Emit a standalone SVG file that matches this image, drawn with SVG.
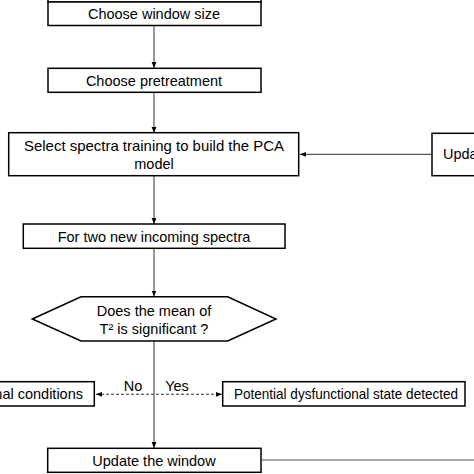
<svg xmlns="http://www.w3.org/2000/svg" width="474" height="474" viewBox="0 0 474 474">
<style>
.box{fill:#fff;stroke:#000;stroke-width:1.5}
.t{font-family:"Liberation Sans",Arial,sans-serif;font-size:14.5px;fill:#000;text-anchor:middle}
.ln{stroke:#555;stroke-width:1.2;fill:none}
.dash{stroke:#333;stroke-width:1.1;fill:none;stroke-dasharray:3,2}
</style>
<defs>
<marker id="ah" viewBox="0 0 10 10" refX="10" refY="5" markerWidth="6" markerHeight="6" orient="auto-start-reverse" markerUnits="userSpaceOnUse">
<path d="M0,1 L10,5 L0,9 z" fill="#000"/>
</marker>
</defs>
<rect width="474" height="474" fill="#fff"/>
<g id="connectors">
<line class="ln" x1="154" y1="26" x2="154" y2="68" marker-end="url(#ah)"/>
<line class="ln" x1="154" y1="92" x2="154" y2="133" marker-end="url(#ah)"/>
<line class="ln" x1="432" y1="154.3" x2="300" y2="154.3" marker-end="url(#ah)"/>
<line class="ln" x1="154" y1="176" x2="154" y2="224" marker-end="url(#ah)"/>
<line class="ln" x1="154" y1="248" x2="154" y2="296.5" marker-end="url(#ah)"/>
<line class="ln" x1="154" y1="341" x2="154" y2="448" marker-end="url(#ah)"/>
<line class="dash" x1="96" y1="394.3" x2="222" y2="394.3" marker-start="url(#ah)" marker-end="url(#ah)"/>
<line class="ln" x1="261" y1="460" x2="474" y2="460"/>
<text class="t" x="133" y="390.5">No</text>
<text class="t" x="177" y="390.5">Yes</text>
</g>
<g id="n0"><rect class="box" x="48" y="-10" width="213" height="12" stroke-width="3"/></g>
<g id="n1"><rect class="box" x="48" y="2" width="213" height="23.5"/><text class="t" x="154" y="19">Choose window size</text></g>
<g id="n2"><rect class="box" x="48" y="68.3" width="213" height="24"/><text class="t" x="154" y="86">Choose pretreatment</text></g>
<g id="n3"><rect class="box" x="8.7" y="132.7" width="290" height="43"/><text class="t" x="154" y="150.7" textLength="260" lengthAdjust="spacingAndGlyphs">Select spectra training to build the PCA</text><text class="t" x="154" y="169">model</text></g>
<g id="n4"><rect class="box" x="432" y="133.3" width="60" height="42.4"/><text class="t" x="443" y="159" style="text-anchor:start">Update</text></g>
<g id="n5"><rect class="box" x="23.3" y="224" width="261.7" height="24.3"/><text class="t" x="154" y="241.7">For two new incoming spectra</text></g>
<g id="n6"><polygon class="box" points="32.3,319 81,296.7 227.7,296.7 276,319 227.7,341 81,341"/><text class="t" x="154" y="315.7">Does the mean of</text><text class="t" x="154" y="334">T² is significant ?</text></g>
<g id="n7"><rect class="box" x="-60" y="381.7" width="154.3" height="24.3"/><text class="t" x="83" y="398.7" style="text-anchor:end">Normal conditions</text></g>
<g id="n8"><rect class="box" x="222.7" y="381.7" width="242.3" height="24.3"/><text class="t" x="346" y="398.7" textLength="224" lengthAdjust="spacingAndGlyphs">Potential dysfunctional state detected</text></g>
<g id="n9"><rect class="box" x="47.7" y="448.3" width="213.3" height="24"/><text class="t" x="154" y="465.7">Update the window</text></g>
</svg>
